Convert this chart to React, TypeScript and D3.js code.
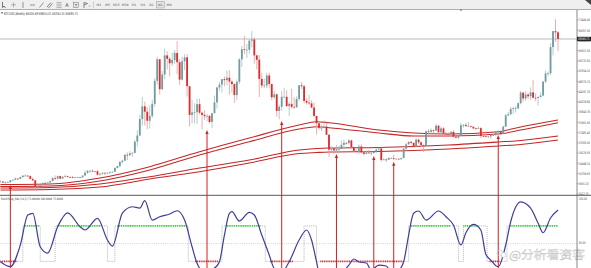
import React from "react";
import * as d3 from "d3";

// ---------- data (BTCUSD weekly, prices in thousands USD) ----------
const firstOpen = 7.42;
const closes = [
  7.5, 7.1, 7.2, 7.25, 8.05, 8.2, 8.7, 8.6, 9.3, 9.9, 9.9, 9.7, 8.55, 8.0, 5.35, 5.85, 6.25, 6.9, 6.85, 7.1,
  7.7, 8.9, 8.7, 9.7, 8.7, 9.45, 9.65, 9.35, 9.3, 9.0, 9.25, 9.25, 9.2, 9.95, 11.1, 11.9, 11.9, 11.6, 11.7, 10.3,
  10.7, 11.1, 10.8, 11.1, 11.4, 11.5, 13.0, 13.8, 15.5, 16.0, 18.4, 18.2, 19.0, 19.2, 23.8, 26.3, 33.0, 38.2, 36.0, 32.3,
  34.3, 39.2, 48.6, 57.4, 45.2, 51.2, 59.0, 57.6, 55.8, 57.1, 60.0, 56.2, 49.1, 56.6, 58.2, 46.4, 34.7, 35.7, 35.8, 39.1,
  35.6, 34.7, 34.2, 34.3, 31.8, 35.4, 39.8, 45.9, 47.1, 49.3, 48.9, 49.9, 48.3, 47.3, 42.8, 48.2, 57.4, 61.5, 61.3, 61.3,
  65.0, 65.5, 59.0, 57.2, 49.4, 46.7, 46.7, 50.8, 47.3, 41.9, 43.1, 36.3, 38.0, 42.1, 42.1, 38.3, 39.2, 38.0, 37.8, 41.2,
  46.8, 46.4, 40.4, 39.7, 39.4, 37.7, 34.3, 31.3, 29.4, 29.4, 29.9, 26.6, 20.5, 21.0, 20.2, 20.8, 20.8, 22.5, 23.3, 23.2,
  24.3, 21.5, 20.0, 19.9, 21.8, 19.4, 18.8, 19.3, 19.1, 19.2, 19.6, 20.6, 21.0, 16.3, 16.5, 16.4, 17.1, 17.1, 16.8, 16.8,
  16.6, 17.1, 20.9, 22.7, 23.7, 23.3, 21.8, 24.6, 23.5, 22.4, 22.0, 28.0, 27.8, 28.5, 28.3, 30.3, 27.6, 29.2, 27.0, 26.9,
  26.8, 27.8, 25.8, 25.4, 26.3, 30.5, 30.6, 30.2, 30.2, 29.9, 29.2, 29.0, 29.3, 26.1, 26.0, 25.8, 25.9, 26.5, 26.5, 27.9,
  27.9, 26.9, 29.9, 34.5, 35.0, 37.1, 37.4, 37.4, 39.5, 43.8, 41.4, 43.0, 42.3, 43.9, 41.7, 41.6, 42.0, 42.6, 48.3, 51.6,
  51.7, 62.4, 68.9, 68.4, 65.7,
];
const highs = [
  7.9, 7.65, 7.5, 7.7, 8.1, 8.45, 9.2, 8.9, 9.6, 10.2, 10.5, 10.2, 9.95, 9.2, 8.2, 6.9, 6.95, 7.3, 7.5, 7.3,
  7.8, 9.45, 10.0, 9.9, 9.9, 9.65, 10.4, 9.95, 9.6, 9.8, 9.3, 9.45, 9.3, 10.0, 12.0, 12.1, 12.1, 12.45, 11.8, 12.1,
  10.8, 11.2, 11.0, 11.1, 11.5, 11.7, 13.3, 14.0, 15.95, 16.4, 18.8, 19.4, 19.9, 19.4, 24.3, 28.4, 34.8, 42.0, 40.1, 37.9,
  38.6, 40.9, 49.7, 58.4, 57.5, 52.6, 61.7, 60.7, 58.4, 60.2, 61.2, 64.9, 57.5, 58.5, 59.5, 59.6, 46.6, 40.9, 39.5, 41.3,
  41.3, 36.0, 36.6, 35.1, 34.7, 35.4, 42.6, 46.2, 48.1, 49.4, 50.5, 52.9, 52.9, 48.8, 47.6, 49.2, 57.8, 62.9, 67.0, 63.7,
  65.6, 69.0, 66.3, 59.3, 59.2, 51.9, 49.5, 51.9, 52.0, 47.5, 44.5, 43.5, 38.9, 44.4, 45.8, 44.8, 40.0, 45.4, 42.0, 42.3,
  46.9, 48.2, 47.1, 41.5, 42.9, 40.7, 39.8, 34.2, 31.0, 30.6, 32.4, 31.6, 26.8, 21.9, 21.6, 22.4, 22.0, 24.2, 24.6, 23.6,
  24.9, 24.4, 21.8, 20.5, 22.7, 22.7, 19.9, 20.3, 20.4, 19.7, 19.7, 21.0, 21.4, 21.4, 17.0, 16.9, 17.4, 17.4, 18.4, 16.9,
  16.9, 17.2, 21.3, 23.3, 23.9, 24.2, 23.4, 25.2, 25.0, 23.9, 22.6, 28.4, 28.9, 29.2, 28.8, 31.0, 30.5, 30.0, 29.8, 27.7,
  27.6, 28.0, 28.4, 27.1, 26.8, 31.4, 31.0, 31.5, 31.8, 30.3, 29.9, 29.5, 30.2, 29.7, 26.8, 28.1, 26.1, 26.8, 27.4, 28.0,
  28.6, 27.9, 30.3, 35.1, 35.9, 38.0, 37.9, 38.4, 39.7, 44.5, 44.0, 44.4, 43.8, 45.9, 49.0, 43.5, 42.3, 43.9, 48.5, 52.8,
  52.4, 64.0, 69.0, 73.8, 68.9,
];
const lows = [
  7.1, 6.9, 6.43, 7.1, 6.85, 7.7, 8.1, 8.2, 8.55, 9.1, 9.6, 9.3, 8.45, 7.7, 3.85, 4.4, 5.7, 5.9, 6.6, 6.5,
  6.8, 7.6, 8.1, 8.2, 8.6, 8.6, 9.3, 9.1, 8.95, 8.8, 8.9, 9.1, 9.05, 9.1, 9.9, 10.6, 11.1, 11.3, 11.1, 9.9,
  9.9, 10.2, 10.2, 10.4, 10.6, 11.2, 11.4, 12.9, 13.3, 14.8, 15.8, 16.3, 18.2, 17.6, 19.0, 21.8, 26.0, 30.3, 30.4, 28.8,
  29.2, 33.4, 38.0, 47.0, 43.0, 44.9, 49.3, 53.3, 50.4, 54.7, 55.5, 51.3, 47.0, 48.8, 53.0, 42.2, 30.0, 31.2, 31.3, 31.0,
  34.9, 28.8, 32.7, 32.1, 31.1, 29.3, 35.3, 37.3, 44.6, 43.9, 46.4, 46.8, 42.9, 43.8, 39.6, 40.8, 47.2, 54.3, 59.5, 57.9,
  59.5, 62.3, 55.6, 53.3, 42.0, 45.6, 45.6, 45.6, 45.7, 40.7, 41.3, 34.0, 32.9, 36.3, 41.7, 38.0, 34.3, 37.2, 37.2, 37.6,
  40.5, 45.3, 39.4, 38.9, 38.9, 37.6, 33.7, 26.7, 28.6, 28.0, 29.3, 26.5, 17.6, 19.7, 18.8, 19.3, 18.9, 20.8, 20.7, 22.5,
  22.7, 20.8, 19.5, 19.5, 18.6, 19.3, 18.1, 18.5, 19.0, 18.2, 18.9, 19.2, 20.1, 15.6, 16.2, 15.5, 16.5, 16.9, 16.3, 16.5,
  16.4, 16.6, 17.0, 20.4, 22.5, 22.7, 21.4, 21.5, 22.8, 21.9, 19.6, 21.9, 26.6, 26.6, 27.2, 28.2, 27.1, 26.9, 26.4, 25.8,
  26.3, 26.1, 25.4, 25.3, 24.8, 26.2, 29.5, 29.7, 30.0, 29.6, 28.8, 28.6, 29.0, 25.2, 25.8, 25.4, 25.3, 24.9, 26.2, 26.0,
  27.2, 26.5, 26.8, 29.8, 34.1, 34.5, 35.0, 35.7, 37.0, 39.0, 40.2, 40.5, 41.3, 40.8, 41.5, 40.3, 38.5, 41.8, 42.3, 47.8,
  50.6, 50.9, 59.0, 64.5, 60.8,
];

// moving-average envelopes, read at sample weeks (thousands USD)
const maWeeks = [0, 20, 40, 60, 80, 100, 120, 127, 132, 152, 166, 180, 200, 209, 224];
const maUpperA = [6.29, 6.5, 8.94, 13.56, 19.68, 25.27, 30.58, 31.93, 31.52, 28.54, 27.32, 26.91, 27.85, 29.76, 32.62];
const maUpperB = [5.47, 5.68, 7.72, 12.21, 18.33, 23.76, 28.95, 29.89, 29.48, 27.32, 26.09, 26.09, 26.91, 28.54, 31.52];
const maLowerA = [4.86, 5.07, 6.5, 9.48, 13.03, 16.29, 20.38, 20.99, 21.19, 21.4, 21.8, 22.42, 23.64, 24.25, 26.09];
const maLowerB = [4.05, 4.25, 5.27, 8.54, 11.52, 15.07, 18.95, 19.35, 19.56, 19.76, 20.17, 20.78, 22.01, 22.62, 24.46];

// signal arrows (week index, tip price in thousands)
const arrowWeeks = [4, 83, 113, 135, 150, 158, 200];
const arrowTips = [6.09, 28.5, 32.2, 18.7, 17.9, 15.6, 26.5];

// stochastic oscillator (week index, value)
const stochWeeks = [0, 4, 8, 11, 13, 16, 19, 23, 27, 32, 34, 39, 43, 45, 49, 53, 56, 58, 61, 64, 68, 71, 74, 77, 79, 80, 82, 86, 88, 90,
  92, 93, 96, 100, 102, 105, 108, 110, 113, 116, 120, 123, 125, 127, 128, 136, 140, 142, 144, 147, 149, 152, 155, 157, 160, 162, 164, 166, 168, 171,
  176, 179, 182, 185, 187, 190, 193, 195, 197, 200, 203, 205, 207, 209, 213, 216, 218, 221, 224];
const stochValues = [29.6, 24.0, 48.5, 82.3, 84.2, 46.5, 39.4, 69.1, 84.8, 69.1, 65.4, 78.5, 54.1, 47.3, 84.5, 91.6, 90.1, 98.4, 76.6, 80.3,
  83.4, 87.1, 76.6, 46.5, 27.8, 22.5, 19.2, 22.5, 29.6, 59.7, 84.2, 86.0, 75.5, 85.3, 82.3, 59.7, 37.2, 22.2, 18.0, 29.6,
  54.1, 65.4, 54.1, 29.6, 18.0, 14.6, 25.9, 32.7, 29.3, 28.2, 20.3, 25.9, 24.8, 18.0, 20.3, 29.6, 59.7, 84.2, 86.8, 76.6,
  86.8, 80.3, 71.0, 48.5, 62.3, 71.8, 65.4, 38.0, 31.5, 24.0, 48.5, 74.7, 91.3, 97.2, 90.1, 73.2, 62.3, 78.9, 87.9];

// step line state changes (week index) and levels
const stepWeeks = [0, 9, 16, 22, 43, 46, 75.5, 89, 106.4, 122, 127, 164, 184, 186, 195.5, 203.5, 224];
const stepLevels = [30, 70, 30, 70, 30, 70, 30, 70, 30, 70, 30, 70, 30, 70, 30, 70, 70];
const greenStart = [10, 23, 47, 91, 165, 186, 205];
const greenEnd = [15.4, 40.2, 74.3, 104.4, 180.7, 192, 224];
const redStart = [0, 78.3, 108.4, 128.5, 196.5];
const redEnd = [6.7, 87.6, 117.8, 161.8, 200.8];
const upperLevel = 70;
const lowerLevel = 30;
const midLevel = 50;

// axis labels
const priceTicks = [73446.4, 69267.95, 65089.5, 60911.05, 56732.6, 52554.15, 48375.7, 44197.25, 40018.8, 35840.35,
  31661.9, 27483.45, 23305.0, 19126.55, 14948.1, 10769.65, 6591.2, 2412.75];
const lastPrice = 65695.71;
const stochTicks = [100, 50];
const tfLabels = ["M1", "M5", "M15", "M30", "H1", "H4", "D1", "W1", "MN"];
const activeTf = "W1";
const headerText = "BTCUSD,Weekly  68403.89 69654.41 60784.31 65695.71";
const indicatorText = "StochStep_Sdo (14,3) 75.00000 100.0000 75.0000";
const watermark = "分析看资客";

export default function App() {
  const axisX = 577;
  const xWeek = d3.scaleLinear().domain([0, 224]).range([0.4, 558]);
  const yPrice = d3.scaleLinear().domain([2.41275, 73.4464]).range([194, 20]);
  const yStoch = d3.scaleLinear().domain([0, 100]).range([288, 199.3]);

  const candles = closes.map((c, i) => ({
    i,
    o: i === 0 ? firstOpen : closes[i - 1],
    c,
    h: highs[i],
    l: lows[i],
  }));

  const maLine = (vals: number[]) =>
    d3
      .line<number>()
      .x((_, k) => xWeek(maWeeks[k]))
      .y((v) => yPrice(v))
      .curve(d3.curveMonotoneX)(vals) || "";

  const stochPath =
    d3
      .line<number>()
      .x((_, k) => xWeek(stochWeeks[k]))
      .y((v) => yStoch(v))
      .curve(d3.curveMonotoneX)(stochValues) || "";

  const stepPath =
    d3
      .line<number>()
      .x((_, k) => xWeek(stepWeeks[k]))
      .y((v) => yStoch(v))
      .curve(d3.curveStepAfter)(stepLevels) || "";

  const bull = "#6f9ba1";
  const bear = "#e02a2a";
  const bw = 1.8;
  const font = "'DejaVu Sans', 'Liberation Sans', sans-serif";
  const axisFont = 2.35;

  const axisLabel = (x: number, y: number, s: string, fill: string, key: string) => (
    <text
      key={key}
      transform={`translate(${x},${y}) scale(1,1.5)`}
      fontSize={axisFont}
      fill={fill}
    >
      {s}
    </text>
  );

  return (
    <svg
      width={591}
      height={268}
      style={{ position: "absolute", left: 0, top: 0, display: "block", background: "#ffffff" }}
      fontFamily={font}
    >
      <defs>
        <clipPath id="pricePane">
          <rect x={0} y={10} width={axisX} height={185} />
        </clipPath>
        <clipPath id="indPane">
          <rect x={0} y={196} width={axisX} height={72} />
        </clipPath>
      </defs>

      <rect x={0} y={0} width={591} height={268} fill="#ffffff" />

      {/* toolbar */}
      <rect x={0} y={0} width={591} height={9.5} fill="#efefef" />
      <line x1={0} x2={591} y1={9.5} y2={9.5} stroke="#9a9a9a" strokeWidth={0.8} />
      <path d="M585 0 L591 0 L591 5 Z" fill="#444" />
      <g stroke="#555" strokeWidth={0.6} fill="none">
        <path d="M2.5 2 L2.5 7.5 L4 6 L5.5 8" stroke="#222" />
        <path d="M11 4.8 H16 M13.5 2.3 V7.3" stroke="#888" />
        <line x1={23} x2={23} y1={2} y2={8} />
        <line x1={30} x2={35} y1={5} y2={5} />
        <line x1={39.5} x2={43.5} y1={7.5} y2={2.5} />
        <path d="M47 7 L51 2.5 M48.5 8 L52.5 3.5" stroke="#335" />
        <path d="M56.5 2.5 H61.5 M56.5 4.2 H61.5 M56.5 5.9 H61.5 M56.5 7.6 H61.5" strokeWidth={0.4} />
        <rect x={73.5} y={2.2} width={5} height={5.4} strokeWidth={0.4} />
        <line x1={93.5} x2={93.5} y1={1.5} y2={8.5} stroke="#bbb" />
        <path d="M84 8 V2.5 L87.5 3.5 L84 5" stroke="#444" />
        <path d="M88.5 5.5 L89.5 6.5 L90.5 5.5" strokeWidth={0.4} />
      </g>
      <text x={67} y={7.2} fontSize={5} fill="#444" textAnchor="middle">A</text>
      <text x={76} y={6.8} fontSize={4} fill="#444" textAnchor="middle">T</text>
      {tfLabels.map((t, k) => {
        const cx = 99 + k * 8.75;
        return (
          <g key={t}>
            {t === activeTf && (
              <rect x={cx - 4} y={1.5} width={8} height={6.5} fill="#e4e4e4" stroke="#999" strokeWidth={0.5} />
            )}
            <text x={cx} y={6.3} fontSize={3.2} fill="#555" textAnchor="middle">
              {t}
            </text>
          </g>
        );
      })}
      <path d="M459.5 9.5 L462.5 9.5 L461 11 Z" fill="#666" />

      {/* header text */}
      <path d="M1 12.3 L3 12.3 L2 14 Z" fill="#333" />
      <text x={4} y={14.8} fontSize={3.8} fill="#333" textLength={74} lengthAdjust="spacingAndGlyphs">
        {headerText}
      </text>

      {/* price pane */}
      <g clipPath="url(#pricePane)">
        <line x1={0} x2={axisX} y1={yPrice(lastPrice / 1000)} y2={yPrice(lastPrice / 1000)} stroke="#a8a8a8" strokeWidth={0.8} />
        {[maUpperA, maUpperB, maLowerA, maLowerB].map((m, k) => (
          <path key={k} d={maLine(m)} fill="none" stroke="#c42525" strokeWidth={1.05} />
        ))}
        {candles.map((d) => {
          const up = d.c >= d.o;
          const cx = xWeek(d.i);
          const yTop = yPrice(Math.max(d.o, d.c));
          const yBot = yPrice(Math.min(d.o, d.c));
          return (
            <g key={d.i}>
              <line
                x1={cx}
                x2={cx}
                y1={yPrice(d.h)}
                y2={yPrice(d.l)}
                stroke={up ? "#a9bcc0" : "#ec9a9a"}
                strokeWidth={0.8}
              />
              <rect
                x={cx - bw / 2}
                y={yTop}
                width={bw}
                height={Math.max(0.7, yBot - yTop)}
                fill={up ? bull : bear}
              />
            </g>
          );
        })}
      </g>

      {/* pane separator */}
      <line x1={0} x2={591} y1={195.3} y2={195.3} stroke="#7a7a7a" strokeWidth={1.3} />

      {/* indicator pane */}
      <g clipPath="url(#indPane)">
        <line
          x1={0}
          x2={axisX}
          y1={yStoch(midLevel)}
          y2={yStoch(midLevel)}
          stroke="#c4c4c4"
          strokeWidth={0.8}
          strokeDasharray="1 1.2"
        />
        <path d={stepPath} fill="none" stroke="#a5a5a5" strokeWidth={0.8} strokeDasharray="1 1" />
        {greenStart.map((s, k) => (
          <line
            key={"g" + k}
            x1={xWeek(s)}
            x2={xWeek(greenEnd[k])}
            y1={yStoch(upperLevel)}
            y2={yStoch(upperLevel)}
            stroke="#2fd22f"
            strokeWidth={1.6}
            strokeDasharray="1 0.8"
          />
        ))}
        {redStart.map((s, k) => (
          <line
            key={"r" + k}
            x1={xWeek(s)}
            x2={xWeek(redEnd[k])}
            y1={yStoch(lowerLevel)}
            y2={yStoch(lowerLevel)}
            stroke="#e02020"
            strokeWidth={1.6}
            strokeDasharray="1 0.8"
          />
        ))}
        <path d={stochPath} fill="none" stroke="#3d3d9c" strokeWidth={1.2} />
      </g>
      <text x={1} y={200} fontSize={3.2} fill="#333" textLength={62} lengthAdjust="spacingAndGlyphs">
        {indicatorText}
      </text>

      {/* signal arrows */}
      {arrowWeeks.map((w, k) => {
        const x = xWeek(w);
        const ty = yPrice(arrowTips[k]);
        return (
          <g key={"a" + k}>
            <line x1={x} x2={x} y1={ty + 2.5} y2={268} stroke="#d41f1f" strokeWidth={1} />
            <path d={`M${x} ${ty} L${x - 1.6} ${ty + 4} L${x + 1.6} ${ty + 4} Z`} fill="#d41f1f" />
          </g>
        );
      })}

      {/* watermark */}
      <g>
        <circle cx={500} cy={253} r={3} fill="none" stroke="#c6c6c6" strokeWidth={0.7} />
        <circle cx={503.5} cy={255} r={2.4} fill="#fff" stroke="#c6c6c6" strokeWidth={0.7} />
        <text
          x={509}
          y={259}
          fontSize={11}
          fontFamily="'Noto Sans CJK SC', sans-serif"
          fill="#ffffff"
          stroke="#c2c2c2"
          strokeWidth={0.4}
          textLength={76}
          lengthAdjust="spacingAndGlyphs"
        >
          {"@" + watermark}
        </text>
      </g>

      {/* right axis */}
      <line x1={axisX} x2={axisX} y1={10} y2={268} stroke="#6a6a6a" strokeWidth={0.8} />
      {priceTicks.map((t) => {
        const y = yPrice(t / 1000);
        return (
          <g key={t}>
            <line x1={axisX} x2={axisX + 1.5} y1={y} y2={y} stroke="#666" strokeWidth={0.5} />
            {axisLabel(axisX + 1.8, y + 1.3, t.toFixed(2), "#444", "l" + t)}
          </g>
        );
      })}
      <rect x={axisX} y={yPrice(lastPrice / 1000) - 2.2} width={14} height={4.4} fill="#262626" />
      {axisLabel(axisX + 1.3, yPrice(lastPrice / 1000) + 1.3, lastPrice.toFixed(2), "#fff", "last")}
      {stochTicks.map((t) => axisLabel(axisX + 1.8, yStoch(t) + 0.6, t.toFixed(2), "#444", "s" + t))}
    </svg>
  );
}
